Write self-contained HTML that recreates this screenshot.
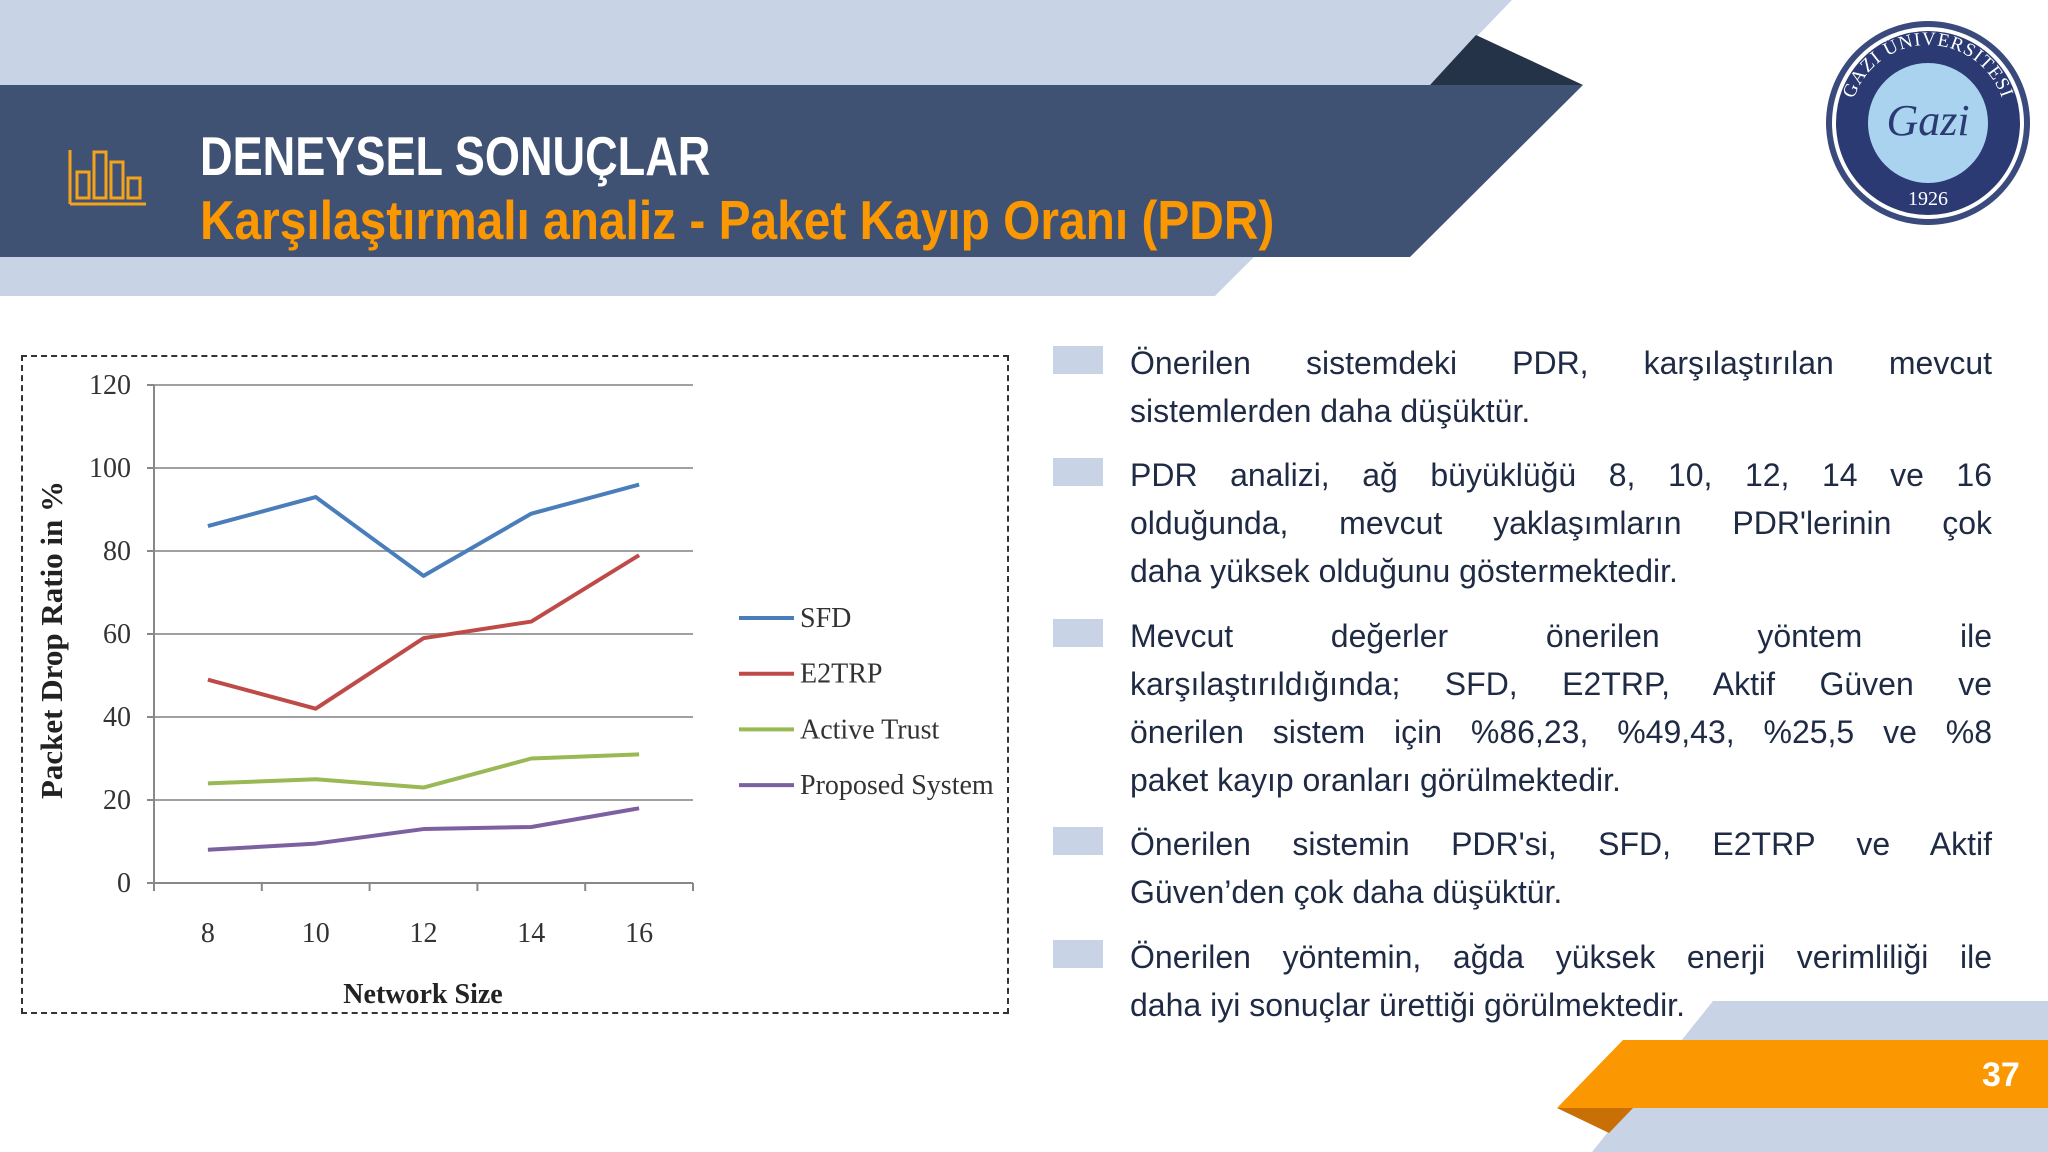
<!DOCTYPE html>
<html><head><meta charset="utf-8">
<style>
body{margin:0;width:2048px;height:1152px;position:relative;overflow:hidden;background:#fff;font-family:"Liberation Sans",sans-serif}
.abs{position:absolute}
.ln{position:absolute;left:1130px;width:862px;font-size:32px;color:#1f2a44;white-space:nowrap;line-height:48px}
.j{text-align:justify;text-align-last:justify}
.sq{position:absolute;left:1053px;width:50px;height:28px;background:#c8d4e6}
</style></head><body>
<svg class="abs" style="left:0;top:0" width="2048" height="1152">
<defs><path id="arcTop" d="M1850,123 A78,78 0 0 1 2006,123"/></defs>
<polygon points="0,0 1512,0 1430,85 0,85" fill="#c8d4e6"/>
<polygon points="1430,85 1476,35 1583,85" fill="#253349"/>
<polygon points="0,257 1254,257 1215,296 0,296" fill="#c8d4e6"/>
<polygon points="0,85 1583,85 1410,257 0,257" fill="#3f5274"/>
<polygon points="1713,1001 2048,1001 2048,1152 1592,1152" fill="#c8d4e6"/>
<polygon points="1623,1040 2048,1040 2048,1108 1557,1108" fill="#fb9700"/>
<polygon points="1557,1108 1633,1108 1609,1133" fill="#c86f05"/>
<g fill="none" stroke="#f5a31a" stroke-width="3">
<line x1="70" y1="150" x2="70" y2="204"/><line x1="70" y1="204" x2="146" y2="204"/>
<rect x="77" y="172" width="12" height="26"/><rect x="94" y="152" width="12" height="46"/><rect x="111" y="162" width="12" height="36"/><rect x="128" y="178" width="12" height="20"/>
</g>
<g>
<circle cx="1928" cy="123" r="102" fill="#3a4a7c"/>
<circle cx="1928" cy="123" r="96" fill="#fff"/>
<circle cx="1928" cy="123" r="92" fill="#2b3a73"/>
<circle cx="1928" cy="123" r="60" fill="#a9d3ee"/>
<text x="1928" y="135" text-anchor="middle" font-family="Liberation Serif" font-style="italic" font-size="44" fill="#2b3a73">Gazi</text>
<text font-family="Liberation Serif" font-size="19" fill="#fff" letter-spacing="1"><textPath href="#arcTop" startOffset="50%" text-anchor="middle">GAZİ ÜNİVERSİTESİ</textPath></text>
<text x="1928" y="205" text-anchor="middle" font-family="Liberation Serif" font-size="20" fill="#fff">1926</text>
</g>
</svg>
<div class="abs" style="left:200px;top:124px;font-size:55px;font-weight:bold;color:#fff;transform:scaleX(0.82);transform-origin:left;white-space:nowrap">DENEYSEL SONUÇLAR</div>
<div class="abs" style="left:200px;top:188px;font-size:55px;font-weight:bold;color:#fb9700;transform:scaleX(0.87);transform-origin:left;white-space:nowrap">Karşılaştırmalı analiz - Paket Kayıp Oranı (PDR)</div>
<div class="abs" style="left:1982px;top:1056px;font-size:34px;font-weight:bold;color:#fff">37</div>

<div class="abs" style="left:21px;top:355px;width:984px;height:655px;border:2px dashed #333"></div>
<svg id="chart" class="abs" style="left:0;top:0" width="1020" height="1020"></svg>

<div class="sq" style="top:346px"></div>
<div class="ln j" style="top:339px">Önerilen sistemdeki PDR, karşılaştırılan mevcut</div>
<div class="ln" style="top:387px">sistemlerden daha düşüktür.</div>
<div class="sq" style="top:458px"></div>
<div class="ln j" style="top:451px">PDR analizi, ağ büyüklüğü 8, 10, 12, 14 ve 16</div>
<div class="ln j" style="top:499px">olduğunda, mevcut yaklaşımların PDR'lerinin çok</div>
<div class="ln" style="top:547px">daha yüksek olduğunu göstermektedir.</div>
<div class="sq" style="top:619px"></div>
<div class="ln j" style="top:612px">Mevcut değerler önerilen yöntem ile</div>
<div class="ln j" style="top:660px">karşılaştırıldığında; SFD, E2TRP, Aktif Güven ve</div>
<div class="ln j" style="top:708px">önerilen sistem için %86,23, %49,43, %25,5 ve %8</div>
<div class="ln" style="top:756px">paket kayıp oranları görülmektedir.</div>
<div class="sq" style="top:827px"></div>
<div class="ln j" style="top:820px">Önerilen sistemin PDR'si, SFD, E2TRP ve Aktif</div>
<div class="ln" style="top:868px">Güven’den çok daha düşüktür.</div>
<div class="sq" style="top:940px"></div>
<div class="ln j" style="top:933px">Önerilen yöntemin, ağda yüksek enerji verimliliği ile</div>
<div class="ln" style="top:981px">daha iyi sonuçlar ürettiği görülmektedir.</div>

<script>
const categories=[8,10,12,14,16];
const yTicks=[0,20,40,60,80,100,120];
const seriesNames=["SFD","E2TRP","Active Trust","Proposed System"];
const sfd=[86,93,74,89,96];
const e2trp=[49,42,59,63,79];
const activeTrust=[24,25,23,30,31];
const proposed=[8,9.5,13,13.5,18];

const svg=document.getElementById('chart');
const NS='http://www.w3.org/2000/svg';
const X0=154,X1=693,Y0=883,Y1=385;
const step=(X1-X0)/categories.length;
const xs=i=>X0+step*(i+0.5);
const ys=v=>Y0-(v/120)*(Y0-Y1);
function mk(t,a,name){const e=document.createElementNS(NS,t);for(const k in a)e.setAttribute(k,a[k]);


svg.appendChild(e);return e;}
const serif='"Liberation Serif",serif';
yTicks.forEach(v=>{
 if(v>0)mk('line',{x1:X0,x2:X1,y1:ys(v),y2:ys(v),stroke:'#a0a0a0','stroke-width':2},'gridline-'+v);
 mk('line',{x1:X0-7,x2:X0,y1:ys(v),y2:ys(v),stroke:'#888','stroke-width':2},'y-tick-'+v);
 const t=mk('text',{x:131,y:ys(v)+9,'text-anchor':'end','font-family':serif,'font-size':28,fill:'#333'},'y-label-'+v);t.textContent=v;
});
mk('line',{x1:X0,x2:X0,y1:Y1,y2:Y0,stroke:'#888','stroke-width':2},'y-axis');
mk('line',{x1:X0,x2:X1,y1:Y0,y2:Y0,stroke:'#888','stroke-width':2},'x-axis');
for(let i=0;i<=categories.length;i++)mk('line',{x1:X0+step*i,x2:X0+step*i,y1:Y0,y2:Y0+8,stroke:'#888','stroke-width':2},'x-tick-'+i);
categories.forEach((c,i)=>{const t=mk('text',{x:xs(i),y:942,'text-anchor':'middle','font-family':serif,'font-size':28,fill:'#333'},'x-label-'+c);t.textContent=c;});
let t=mk('text',{x:423,y:1003,'text-anchor':'middle','font-family':serif,'font-size':28,'font-weight':'bold',fill:'#222'},'x-axis-title');t.textContent='Network Size';
t=mk('text',{x:0,y:0,'text-anchor':'middle','font-family':serif,'font-size':31,'font-weight':'bold',fill:'#222',transform:'translate(62,640) rotate(-90)'},'y-axis-title');t.textContent='Packet Drop Ratio in %';
const data=[sfd,e2trp,activeTrust,proposed];
const colors=['#4a7ebb','#be4b48','#98b954','#7d60a0'];
data.forEach((d,k)=>{
 mk('polyline',{points:d.map((v,i)=>xs(i)+','+ys(v)).join(' '),fill:'none',stroke:colors[k],'stroke-width':4,'stroke-linejoin':'round'},'series-'+seriesNames[k].toLowerCase().replace(/ /g,'-'));
 const ly=618+k*55.7;
 mk('line',{x1:739,x2:794,y1:ly,y2:ly,stroke:colors[k],'stroke-width':4},'legend-swatch-'+k);
 const tt=mk('text',{x:800,y:ly+9,'font-family':serif,'font-size':28,fill:'#333'},'legend-entry-'+k);tt.textContent=seriesNames[k];
});
</script>
</body></html>
